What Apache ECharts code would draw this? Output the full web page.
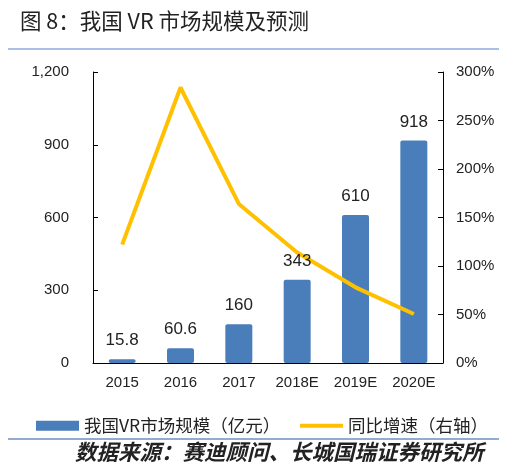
<!DOCTYPE html>
<html>
<head>
<meta charset="utf-8">
<script src="https://cdn.jsdelivr.net/npm/echarts@6/dist/echarts.min.js"></script>
<style>
  html, body { margin: 0; padding: 0; background: #fff; }
  #chart { width: 521px; height: 470px; }
</style>
</head>
<body>
<div id="chart"></div>
<script>
// 数据
const years = ['2015', '2016', '2017', '2018E', '2019E', '2020E']
const marketSize = [15.8, 60.6, 160, 343, 610, 918] // 亿元
const growthRate = [122, 284, 164, 114, 78, 50.5] // %
const leftTicks = [0, 300, 600, 900, 1200]
const rightTicks = [0, 50, 100, 150, 200, 250, 300]

const font = '"Liberation Sans", "Noto Sans CJK SC", sans-serif'
const cjk = '"Noto Sans CJK SC", sans-serif'
const legendText = { fontFamily: cjk, fontSize: 17.5, color: '#222' }

const chartBox = echarts.init(document.getElementById('chart'))

const option = {
  backgroundColor: '#fff',
  animation: false,
  grid: {
    left: 93,
    right: 78,
    top: 72,
    bottom: 107
  },
  graphic: [
    {
      type: 'text',
      left: 20,
      top: 10,
      style: { text: '图 8：我国 VR 市场规模及预测', font: '21.5px ' + cjk, fill: '#222' }
    },
    {
      type: 'line',
      shape: { x1: 8, y1: 49, x2: 499, y2: 49 },
      style: { stroke: '#8eaadb', lineWidth: 1.5 }
    },
    {
      type: 'line',
      shape: { x1: 8, y1: 439, x2: 499, y2: 439 },
      style: { stroke: '#6f8fc4', lineWidth: 1.5 }
    },
    {
      type: 'text',
      left: 75,
      top: 441,
      style: { text: '数据来源：赛迪顾问、长城国瑞证券研究所', font: 'italic bold 21.5px ' + cjk, fill: '#222' }
    }
  ],
  legend: [
    {
      left: 31,
      top: 412,
      itemWidth: 43,
      itemHeight: 10,
      itemGap: 4,
      textStyle: legendText,
      data: [{ name: '我国VR市场规模（亿元）', icon: 'rect' }]
    },
    {
      left: 295,
      top: 412,
      itemWidth: 43,
      itemHeight: 4,
      textStyle: legendText,
      data: [{ name: '同比增速（右轴）', icon: 'rect' }]
    }
  ],
  xAxis: {
    type: 'category',
    data: years,
    axisLine: { lineStyle: { color: '#000', width: 1 } },
    axisTick: { inside: true, length: 5, lineStyle: { color: '#000' } },
    axisLabel: { color: '#222', fontSize: 15, fontFamily: font, margin: 12 }
  },
  yAxis: [
    {
      type: 'value',
      min: leftTicks[0],
      max: leftTicks[leftTicks.length - 1],
      interval: 300,
      splitLine: { show: false },
      axisLine: { show: true, lineStyle: { color: '#000' } },
      axisTick: { show: true, inside: true, length: 5, lineStyle: { color: '#000' } },
      axisLabel: {
        color: '#222',
        fontSize: 15,
        fontFamily: font,
        margin: 24,
        formatter: v => v.toLocaleString('en-US')
      }
    },
    {
      type: 'value',
      min: rightTicks[0],
      max: rightTicks[rightTicks.length - 1],
      interval: 50,
      splitLine: { show: false },
      axisLine: { show: true, lineStyle: { color: '#000' } },
      axisTick: { show: true, inside: true, length: 5, lineStyle: { color: '#000' } },
      axisLabel: {
        color: '#222',
        fontSize: 15,
        fontFamily: font,
        margin: 13,
        formatter: v => v + '%'
      }
    }
  ],
  series: [
    {
      name: '我国VR市场规模（亿元）',
      type: 'bar',
      data: marketSize,
      barWidth: 27,
      itemStyle: { color: '#4a7ebb', borderRadius: 2 }
    },
    {
      name: '同比增速（右轴）',
      type: 'line',
      yAxisIndex: 1,
      data: growthRate,
      showSymbol: false,
      symbol: 'none',
      z: 3,
      lineStyle: { color: '#ffc000', width: 4 },
      itemStyle: { color: '#ffc000' }
    },
    {
      // 数值标签放在折线之上
      name: 'labels',
      type: 'bar',
      data: marketSize,
      barWidth: 27,
      barGap: '-100%',
      silent: true,
      z: 5,
      itemStyle: { color: 'rgba(0,0,0,0)' },
      label: {
        show: true,
        position: 'top',
        distance: 10,
        color: '#222',
        fontSize: 17,
        fontFamily: font
      }
    }
  ]
}

chartBox.setOption(option, true)
window.addEventListener('resize', function () {
  chartBox.resize()
})
</script>
</body>
</html>
